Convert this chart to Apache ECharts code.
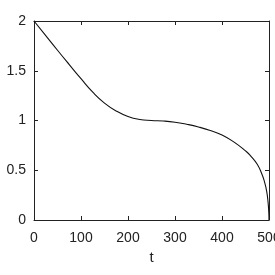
<!DOCTYPE html>
<html><head><meta charset="utf-8">
<script src="https://cdn.jsdelivr.net/npm/echarts@6/dist/echarts.min.js"></script>
<style>html,body{margin:0;padding:0;background:#fff}#c{width:275px;height:275px}</style>
</head><body><div id="c"></div>
<script>
var tValues = [0, 25, 50, 75, 100, 125, 150, 175, 200, 225, 250, 275, 300, 325, 350, 375, 400, 425, 450, 460, 475, 485, 490, 495, 498, 499.5, 500];
var yValues = [2.00, 1.853, 1.706, 1.562, 1.42, 1.285, 1.175, 1.095, 1.04, 1.01, 1.00, 0.995, 0.983, 0.962, 0.935, 0.90, 0.855, 0.785, 0.695, 0.65, 0.56, 0.46, 0.39, 0.29, 0.18, 0.08, 0.00];
var xTicks = [0, 100, 200, 300, 400, 500];
var yTicks = [0, 0.5, 1, 1.5, 2];
var xName = 't';

var data = tValues.map(function (t, i) { return [t, yValues[i]]; });
var font = 'Liberation Sans, Arial, Helvetica, sans-serif';
var lineStyle = { color: '#222', width: 1 };
function axisBase(extra) {
  var a = {
    type: 'value',
    axisLine: { show: true, onZero: false, lineStyle: lineStyle },
    axisTick: { show: true, inside: true, length: 4, lineStyle: lineStyle },
    splitLine: { show: false }
  };
  for (var k in extra) a[k] = extra[k];
  return a;
}
var chart = echarts.init(document.getElementById('c'), null, { renderer: 'canvas' });
chart.setOption({
  animation: false,
  backgroundColor: '#fff',
  grid: { left: 34, top: 21, width: 235, height: 199, containLabel: false, outerBoundsMode: 'none' },
  xAxis: [
    axisBase({ position: 'bottom', min: xTicks[0], max: xTicks[xTicks.length - 1], interval: 100,
      name: xName, nameLocation: 'middle', nameGap: 30,
      nameTextStyle: { fontFamily: font, fontSize: 15, color: '#222' },
      axisLabel: { show: true, margin: 11, fontFamily: font, fontSize: 14, color: '#222', hideOverlap: false, showMaxLabel: true, showMinLabel: true } }),
    axisBase({ position: 'top', min: xTicks[0], max: xTicks[xTicks.length - 1], interval: 100, axisLabel: { show: false } })
  ],
  yAxis: [
    axisBase({ position: 'left', min: yTicks[0], max: yTicks[yTicks.length - 1], interval: 0.5,
      axisLabel: { show: true, margin: 8, fontFamily: font, fontSize: 14, color: '#222', showMaxLabel: true, showMinLabel: true } }),
    axisBase({ position: 'right', min: yTicks[0], max: yTicks[yTicks.length - 1], interval: 0.5, axisLabel: { show: false } })
  ],
  series: [{
    type: 'line', data: data, xAxisIndex: 0, yAxisIndex: 0,
    showSymbol: false, smooth: 0.5,
    lineStyle: { color: '#111', width: 1.1 }
  }]
});
</script></body></html>
